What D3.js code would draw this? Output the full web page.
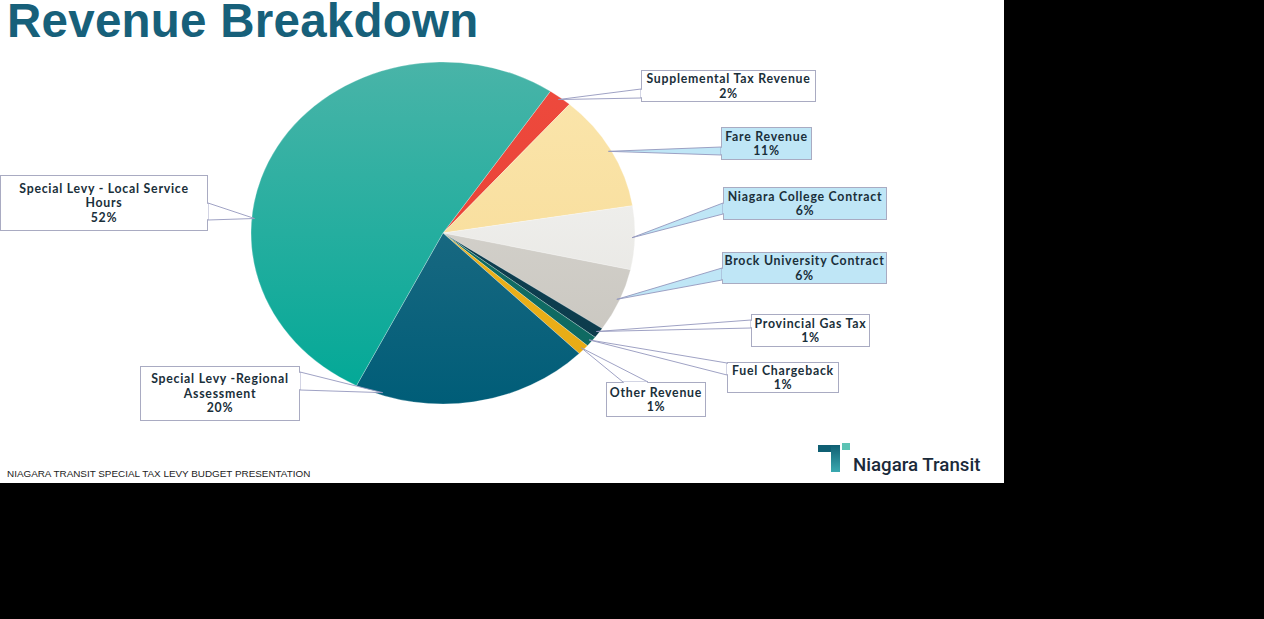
<!DOCTYPE html>
<html><head><meta charset="utf-8">
<script src="https://cdn.jsdelivr.net/npm/d3@7"></script>
<style>
html,body{margin:0;padding:0;background:#000;}
svg{display:block;}
</style></head>
<body>
<script>
// ---- data ----
const categories = ["Supplemental Tax Revenue","Fare Revenue","Niagara College Contract","Brock University Contract","Provincial Gas Tax","Fuel Chargeback","Other Revenue","Special Levy -Regional Assessment","Special Levy - Local Service Hours"];
const values = [2,11,6,6,1,1,1,20,52];
const percentLabels = ["2%","11%","6%","6%","1%","1%","1%","20%","52%"];
const labelLines = [
  ["Supplemental Tax Revenue"],
  ["Fare Revenue"],
  ["Niagara College Contract"],
  ["Brock University Contract"],
  ["Provincial Gas Tax"],
  ["Fuel Chargeback"],
  ["Other Revenue"],
  ["Special Levy -Regional","Assessment"],
  ["Special Levy - Local Service","Hours"]
];
const title = "Revenue Breakdown";
const footer = "NIAGARA TRANSIT SPECIAL TAX LEVY BUDGET PRESENTATION";
const logoText = "Niagara Transit";

// ---- styles / layout ----
const sliceColors = [
  ["#ee4b3e","#e63b31"],
  ["#fbe6ad","#f6d992"],
  ["#f7f7f5","#e2e1dd"],
  ["#dddbd6","#c6c3bc"],
  ["#0f4457","#0c3a4a"],
  ["#137168","#0e6860"],
  ["#f0b823","#e6aa14"],
  ["#2f7389","#005d78"],
  ["#49b4a8","#00a896"]
];
const boxFill = ["#ffffff","#bfe6f6","#bfe6f6","#bfe6f6","#ffffff","#ffffff","#ffffff","#ffffff","#ffffff"];
const boxes = [
  {x:641,y:70,w:175,h:32,side:"left",a:89,b:98},
  {x:721,y:127,w:91,h:33,side:"left",a:147,b:155},
  {x:723,y:187,w:164,h:33,side:"left",a:203,b:214},
  {x:722,y:252,w:165,h:32,side:"left",a:268,b:280},
  {x:751,y:314,w:119,h:33,side:"left",a:320,b:328},
  {x:727,y:362,w:112,h:31,side:"left",a:363,b:375},
  {x:606,y:382,w:100,h:35,side:"top",a:623,b:648},
  {x:140,y:366,w:160,h:55,side:"right",a:372,b:390},
  {x:0,y:175,w:208,h:56,side:"right",a:203,b:220}
];
const tipFrac = [0.5,0.5,0.5,0.5,0.5,0.5,0.5,0.886,0.364];

const W = 1264, H = 619;
const cx = 443, cy = 233, rx = 192, ry = 171;
const startDeg = 34;

const svg = d3.select("body").append("svg").attr("width",W).attr("height",H);
svg.append("rect").attr("width",1004).attr("height",483).attr("fill","#ffffff");

const defs = svg.append("defs");
sliceColors.forEach((c,i)=>{
  const g = defs.append("linearGradient").attr("id","g"+i)
    .attr("gradientUnits","userSpaceOnUse").attr("x1",0).attr("y1",-ry).attr("x2",0).attr("y2",ry);
  g.append("stop").attr("offset","0%").attr("stop-color",c[0]);
  g.append("stop").attr("offset","100%").attr("stop-color",c[1]);
});
const lg = defs.append("linearGradient").attr("id","logoG").attr("x1",0).attr("y1",0).attr("x2",0).attr("y2",1);
lg.append("stop").attr("offset","0%").attr("stop-color","#0f5f73");
lg.append("stop").attr("offset","100%").attr("stop-color","#3aa9b0");

// title
svg.append("text").attr("x",7).attr("y",37).text(title)
  .attr("font-family","'Liberation Sans', Arial, sans-serif").attr("font-weight",700)
  .attr("font-size",47.5).attr("letter-spacing",0.25).attr("fill","#17607a");

// pie
const pie = d3.pie().sort(null).value(d=>d)
  .startAngle(startDeg*Math.PI/180).endAngle(startDeg*Math.PI/180 + 2*Math.PI);
const arcs = pie(values);
const arc = d3.arc().innerRadius(0).outerRadius(ry);
const pg = svg.append("g").attr("transform",`translate(${cx},${cy}) scale(${rx/ry},1)`);
pg.selectAll("path").data(arcs).join("path")
  .attr("d",arc).attr("fill",(d,i)=>`url(#g${i})`)
  .attr("stroke","#ffffff").attr("stroke-width",0.4).attr("stroke-opacity",0.6);

// callouts
const lineColor = "#9497bd";
const fontFam = "Lato, 'Open Sans', sans-serif";
arcs.forEach((d,i)=>{
  const ang = d.startAngle + (d.endAngle-d.startAngle)*tipFrac[i];
  const tx = cx + Math.sin(ang)*rx*0.985;
  const ty = cy - Math.cos(ang)*ry*0.985;
  const b = boxes[i];
  let p1, p2;
  if (b.side==="left"){ p1=[b.x,b.a]; p2=[b.x,b.b]; }
  else if (b.side==="right"){ p1=[b.x+b.w,b.a]; p2=[b.x+b.w,b.b]; }
  else { p1=[b.a,b.y]; p2=[b.b,b.y]; }
  svg.append("path").attr("d",`M${p1[0]},${p1[1]}L${tx},${ty}L${p2[0]},${p2[1]}Z`)
    .attr("fill",boxFill[i]).attr("stroke",lineColor).attr("stroke-width",0.9);
  svg.append("rect").attr("x",b.x+0.5).attr("y",b.y+0.5).attr("width",b.w-1).attr("height",b.h-1)
    .attr("fill",boxFill[i]).attr("stroke","#a9abc2").attr("stroke-width",1);
  if (b.side==="left") svg.append("line").attr("x1",b.x+0.5).attr("x2",b.x+0.5).attr("y1",b.a+0.8).attr("y2",b.b-0.8).attr("stroke",boxFill[i]).attr("stroke-width",1.2);
  if (b.side==="right") svg.append("line").attr("x1",b.x+b.w-0.5).attr("x2",b.x+b.w-0.5).attr("y1",b.a+0.8).attr("y2",b.b-0.8).attr("stroke",boxFill[i]).attr("stroke-width",1.2);
  if (b.side==="top") svg.append("line").attr("y1",b.y+0.5).attr("y2",b.y+0.5).attr("x1",b.a+0.8).attr("x2",b.b-0.8).attr("stroke",boxFill[i]).attr("stroke-width",1.2);
  const lines = labelLines[i].concat([percentLabels[i]]);
  const n = lines.length;
  const midY = b.y + b.h/2;
  const t = svg.append("text").attr("text-anchor","middle")
    .attr("font-family",fontFam).attr("font-weight",700).attr("font-size",12.3)
    .attr("letter-spacing",0.75).attr("fill","#1a2f3a");
  lines.forEach((ln,k)=>{
    t.append("tspan").attr("x",b.x+b.w/2).attr("y",midY + (k-(n-1)/2)*14.6 + 4.3).text(ln);
  });
});

// footer
svg.append("text").attr("x",7).attr("y",477).text(footer)
  .attr("font-family","'Liberation Sans', Arial, sans-serif").attr("font-size",9.9)
  .attr("fill","#222");

// logo
svg.append("rect").attr("x",818).attr("y",445).attr("width",22).attr("height",7).attr("fill","#0f5f73");
svg.append("rect").attr("x",831).attr("y",445).attr("width",9).attr("height",27).attr("fill","url(#logoG)");
svg.append("rect").attr("x",842).attr("y",443).attr("width",8).attr("height",7).attr("fill","#5cc3b4");
svg.append("text").attr("x",853).attr("y",471).text(logoText)
  .attr("font-family","Roboto, sans-serif").attr("font-weight",500).attr("font-size",18.7)
  .attr("fill","#1b2a3a");
</script>
</body></html>
